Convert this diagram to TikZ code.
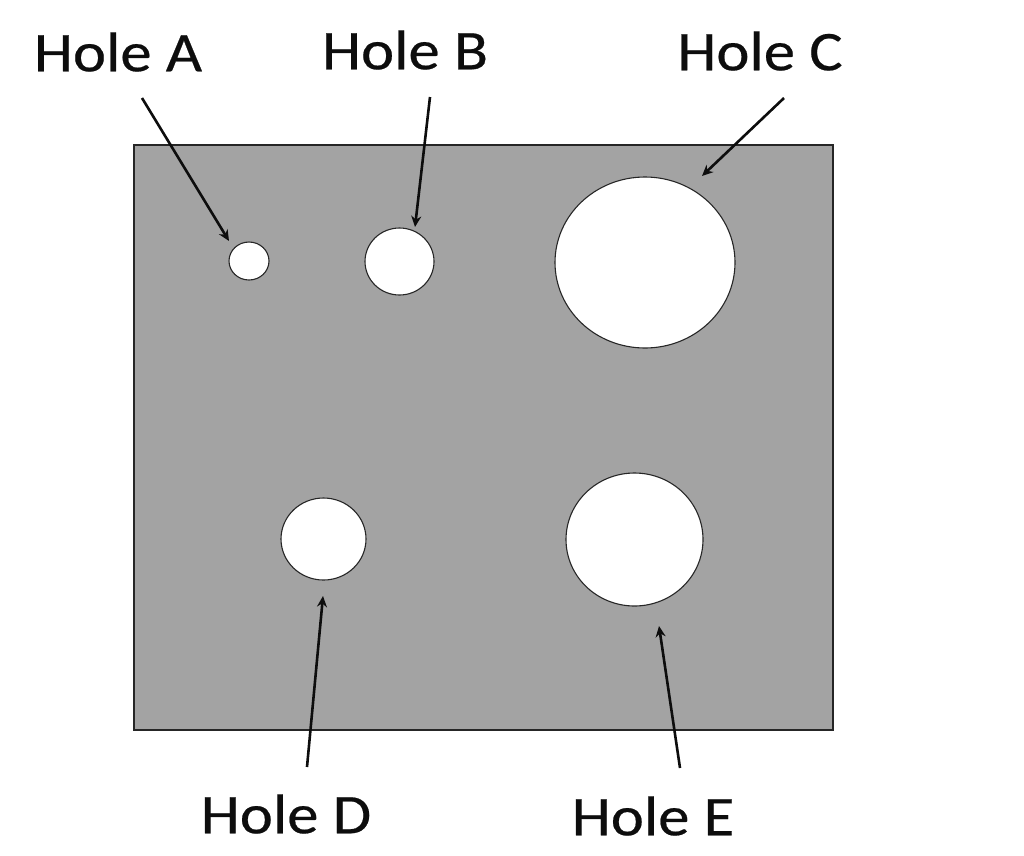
\documentclass[tikz,border=0pt]{standalone}
\usepackage{fontspec}
\setmainfont[FakeStretch=1.12,FakeBold=0.4]{Carlito}
\usetikzlibrary{positioning,arrows.meta,shapes.geometric}

\begin{document}
\begin{tikzpicture}[
	x=1pt, y=-1pt,
	hole/.style={ellipse, draw=black!85, fill=white, line width=1.1pt, inner sep=0pt},
	plate/.style={draw=black!85, fill=black!36, line width=1.3pt},
	title_label/.style={font=\fontsize{56}{56}\selectfont, text=black!95, inner sep=0pt},
	pointer/.style={-{Stealth[length=11pt,width=10pt]}, line width=2.6pt, black!95}
	]
	\useasboundingbox (0,0) rectangle (1024,855);
	
	% --- PLATE ---
	\draw[plate] (134,145) rectangle (833,730);
	
	% --- HOLES ---
	\node[hole, minimum width=40pt, minimum height=38pt] (holeA) at (249,261) {};
	\node[hole, minimum width=69pt, minimum height=67pt] (holeB) at (399.5,261.5) {};
	\node[hole, minimum width=180pt, minimum height=171pt] (holeC) at (645,262.5) {};
	\node[hole, minimum width=85pt, minimum height=82pt] (holeD) at (323.5,539) {};
	\node[hole, minimum width=137pt, minimum height=133pt] (holeE) at (634.5,539.5) {};
	
	% --- LABELS ---
	\node[title_label] (labelA) at (118,52) {Hole A};
	\node[title_label] (labelB) at (405,50) {Hole B};
	\node[title_label] (labelC) at (760,51) {Hole C};
	\node[title_label] (labelD) at (286,814) {Hole D};
	\node[title_label] (labelE) at (653,816) {Hole E};
	
	% --- POINTERS ---
	\coordinate (startA) at (142,98);
	\coordinate (endA) at (229,241);
	\coordinate (startB) at (430,97);
	\coordinate (endB) at (415,227);
	\coordinate (startC) at (784,98);
	\coordinate (endC) at (702,176);
	\coordinate (startD) at (307,767);
	\coordinate (endD) at (323,596);
	\coordinate (startE) at (680,768);
	\coordinate (endE) at (659,626);
	\draw[pointer] (startA) -- (endA);
	\draw[pointer] (startB) -- (endB);
	\draw[pointer] (startC) -- (endC);
	\draw[pointer] (startD) -- (endD);
	\draw[pointer] (startE) -- (endE);
\end{tikzpicture}
\end{document}
